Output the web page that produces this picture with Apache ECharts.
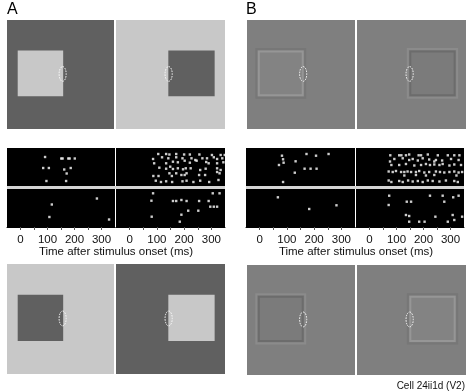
<!DOCTYPE html>
<html>
<head>
<meta charset="utf-8">
<script src="https://cdn.jsdelivr.net/npm/echarts@6/dist/echarts.min.js"></script>
<style>
html,body{margin:0;padding:0;background:#fff;}
#chart{width:474px;height:392px;}
</style>
</head>
<body>
<div id="chart"></div>
<script>
// stimulus geometry, panel units 0..100 : [x0, y0, x1, y1]
var leftSquare = [10, 28, 52.5, 70];
var rightSquare = [48, 28, 90.5, 70];
// receptive field ellipse : [cx, cy, w, h]
var leftRF = [52, 49.5, 6.6, 13.5];
var rightRF = [48.3, 49.5, 6.6, 13.5];

// raster ticks and tick labels
var tickValues = [0, 50, 100, 150, 200, 250, 300];
var tickLabels = [0, 100, 200, 300];

// spikes : [time ms, trial row from top]
var aTopL = [[91,9],[151,10.5],[156,10.5],[177,10.5],[182,10.5],[201,10.5],[84,20],[105,20],[162,21.5],[186,20],[171,25.5],[96,33],[169,33]];
var aBotL = [[283,9.5],[116,15.5],[107,28],[328,30.5]];
var aTopR = [[105,6],[134,6],[146,6.5],[171,6],[200,6.5],[221,6.5],[256,6.5],[302,7],[334,7],[349,7],
  [86,11],[119,9.3],[142,10.3],[171,9.3],[194,10.3],[227,10.3],[241,12],[267,10.3],[284,10.3],[309,9.3],[321,11],[340,10.3],
  [90,15.3],[134,15.3],[159,13.7],[177,14.3],[202,12.7],[221,14.7],[246,12.7],[281,14],[290,15.3],[321,15.3],[344,14.3],
  [109,19.7],[134,20.7],[149,18.7],[159,21],[177,20.3],[196,21.3],[206,20.3],[224,20.3],[259,22],[279,20.7],[321,20.3],[334,22],
  [87,28],[106,28],[146,25.3],[155,28],[171,25.3],[190,27],[202,27],[209,25.3],[255,27],[277,27],[321,24],[330,25.3],
  [96,32.7],[115,34],[134,33.3],[156,34],[194,33.3],[209,32.7],[234,34],[259,32.7],[292,34],[326,32]];
var aBotR = [[86,4.3],[80,11.7],[159,12],[171,12],[190,11],[209,12],[255,12],[290,12],[305,4.3],[330,4.3],[296,17.7],[309,17.7],[321,17.7],
  [215,21.7],[252,21.7],[190,25.7],[81,27.7],[184,32.7]];
var bTopL = [[82,7.7],[172,6],[207,7.7],[253,6],[86,11.3],[88,14.7],[132,13.3],[71,17],[165,20.7],[187,20.7],[209,20.7],[129,24.7],[86,34]];
var bBotL = [[67,8.3],[282,16.3],[182,20]];
var bTopR = [[77,7.3],[110,7.3],[118,7.3],[135,7.3],[147,6.5],[182,7.3],[191,7.3],[216,6.5],[253,7.3],[290,7.3],[314,7.3],[333,7.3],
  [76,13.5],[92,11],[123,10.3],[147,12],[160,11],[179,12.5],[197,10.3],[221,11.5],[240,13.5],[246,12],[269,12.5],[302,11],[330,12],
  [81,17],[110,17],[135,16],[166,17.5],[191,17],[209,16],[224,17],[240,16.5],[259,17],[271,16],[296,17.5],[314,16.5],[339,17],
  [71,23.5],[86,24],[98,23],[117,24],[129,24],[141,23.5],[154,24],[172,24],[184,23],[203,24.5],[221,24],[246,23.5],[261,24],[277,24.5],[296,24],[314,23.5],[330,24.5],[343,24],
  [129,27.5],[172,27],[209,27.5],[240,27],[322,27.5],
  [71,32.5],[81,34],[110,33],[123,34],[143,32.5],[160,33.5],[179,33],[197,34],[216,32.5],[234,33],[259,33.5],[283,32.5],[314,33],[327,34]];
var bBotR = [[73,6.7],[71,16],[138,12.7],[154,12.7],[224,6.7],[271,6.7],[310,8.3],[330,6.7],[277,12.7],[135,26],[147,27],[147,32.7],
  [184,32.7],[204,32.7],[244,27.7],[290,32.7],[308,26],[314,31],[343,27.7]];

var FONT = '"Liberation Sans", Arial, sans-serif';
var DARK = '#606060', LIGHT = '#c8c8c8', GRAY = '#7f7f7f';

var grids = [], xAxes = [], yAxes = [], series = [];

function addGrid(left, top, width, height, bg){
	var i = grids.length;
	grids.push({left: left, top: top, width: width, height: height, show: true, backgroundColor: bg, borderWidth: 0});
	return i;
}

// plain filled square (panel A)
function fillSquare(color){
	return function(params, api){
		var p0 = api.coord([api.value(0), api.value(1)]);
		var p1 = api.coord([api.value(2), api.value(3)]);
		return {type: 'rect', shape: {x: p0[0], y: p0[1], width: p1[0]-p0[0], height: p1[1]-p0[1]}, style: {fill: color}};
	};
}
// edge-only square (panel B)
function edgeSquare(inner, edge, halo){
	return function(params, api){
		var p0 = api.coord([api.value(0), api.value(1)]);
		var p1 = api.coord([api.value(2), api.value(3)]);
		var w = p1[0]-p0[0], h = p1[1]-p0[1];
		return {type: 'group', children: [
			{type: 'rect', shape: {x: p0[0]-1.5, y: p0[1]-1.5, width: w+3, height: h+3}, style: {fill: 'none', stroke: halo, lineWidth: 2}},
			{type: 'rect', shape: {x: p0[0]+1, y: p0[1]+1, width: w-2, height: h-2}, style: {fill: inner, stroke: edge, lineWidth: 2}}
		]};
	};
}
function ellipseItem(params, api){
	var c = api.coord([api.value(0), api.value(1)]);
	var s = api.size([api.value(2), api.value(3)]);
	var w = Math.abs(s[0]), h = Math.abs(s[1]);
	return {type: 'path', shape: {pathData: 'M0,-1A1,1,0,1,1,0,1A1,1,0,1,1,0,-1Z', x: c[0]-w/2, y: c[1]-h/2, width: w, height: h, layout: 'cover'},
		style: {fill: 'none', stroke: '#fff', lineWidth: 1, lineDash: [1.5, 1.2]}};
}

function stimPanel(left, top, width, height, bg, square, rf, render){
	var g = addGrid(left, top, width, height, bg);
	xAxes.push({gridIndex: g, type: 'value', min: 0, max: 100, show: false});
	yAxes.push({gridIndex: g, type: 'value', min: 0, max: 100, inverse: true, show: false});
	series.push({type: 'custom', xAxisIndex: g, yAxisIndex: g, data: [square], renderItem: render, silent: true});
	series.push({type: 'custom', xAxisIndex: g, yAxisIndex: g, data: [rf], renderItem: ellipseItem, silent: true});
}

function raster(left, top, width, spikes, labels){
	var g = addGrid(left, top, width, 38, '#000');
	xAxes.push({gridIndex: g, type: 'value', min: -50, max: 350, interval: 50, splitLine: {show: false},
		axisLine: {show: labels, onZero: false, lineStyle: {color: '#000', width: 1}},
		axisTick: {show: labels, length: 3, customValues: tickValues, lineStyle: {color: '#555', width: 1}},
		axisLabel: {show: labels, customValues: tickLabels, margin: 7, fontSize: 11.5, color: '#111', fontFamily: FONT}});
	yAxes.push({gridIndex: g, type: 'value', min: 0, max: 38, inverse: true, show: false});
	series.push({type: 'scatter', xAxisIndex: g, yAxisIndex: g, data: spikes, symbol: 'rect', symbolSize: 2.4,
		itemStyle: {color: '#fff'}, silent: true});
}

// light separator behind the raster pairs
function separator(left, width){
	var g = addGrid(left, 186, width, 3, '#d4d4d4');
	xAxes.push({gridIndex: g, type: 'value', show: false});
	yAxes.push({gridIndex: g, type: 'value', show: false});
}

// top stimuli
stimPanel(7, 20, 107, 109, DARK, leftSquare, leftRF, fillSquare(LIGHT));
stimPanel(116, 20, 109, 109, LIGHT, rightSquare, rightRF, fillSquare(DARK));
stimPanel(247, 20, 108, 109, GRAY, leftSquare, leftRF, edgeSquare('#838383', '#969696', '#777777'));
stimPanel(357, 20, 109, 109, GRAY, rightSquare, rightRF, edgeSquare('#7b7b7b', '#6c6c6c', '#8b8b8b'));

// rasters
separator(7, 218);
separator(246, 218);
raster(7, 148, 108, aTopL, false);
raster(7, 189, 108, aBotL, true);
raster(116, 148, 109, aTopR, false);
raster(116, 189, 109, aBotR, true);
raster(246, 148, 109, bTopL, false);
raster(246, 189, 109, bBotL, true);
raster(356, 148, 108, bTopR, false);
raster(356, 189, 108, bBotR, true);

// bottom stimuli
stimPanel(7, 264, 107, 110, LIGHT, leftSquare, leftRF, fillSquare(DARK));
stimPanel(116, 264, 109, 110, DARK, rightSquare, rightRF, fillSquare(LIGHT));
stimPanel(247, 265, 108, 110, GRAY, leftSquare, leftRF, edgeSquare('#7b7b7b', '#6c6c6c', '#8b8b8b'));
stimPanel(357, 265, 109, 110, GRAY, rightSquare, rightRF, edgeSquare('#838383', '#969696', '#777777'));

var chart = echarts.init(document.getElementById('chart'));
chart.setOption({
	animation: false,
	backgroundColor: '#fff',
	grid: grids,
	xAxis: xAxes,
	yAxis: yAxes,
	series: series,
	graphic: [
		{type: 'text', x: 7, y: 2, style: {text: 'A', font: '16px ' + FONT, fill: '#000'}},
		{type: 'text', x: 246, y: 2, style: {text: 'B', font: '16px ' + FONT, fill: '#000'}},
		{type: 'text', x: 116, y: 252, style: {text: 'Time after stimulus onset (ms)', font: '11.5px ' + FONT, fill: '#111', textAlign: 'center', textVerticalAlign: 'middle'}},
		{type: 'text', x: 356, y: 252, style: {text: 'Time after stimulus onset (ms)', font: '11.5px ' + FONT, fill: '#111', textAlign: 'center', textVerticalAlign: 'middle'}},
		{type: 'text', x: 465, y: 386, style: {text: 'Cell 24ii1d (V2)', font: '10px ' + FONT, fill: '#111', textAlign: 'right', textVerticalAlign: 'middle'}}
	]
});
</script>
</body>
</html>
